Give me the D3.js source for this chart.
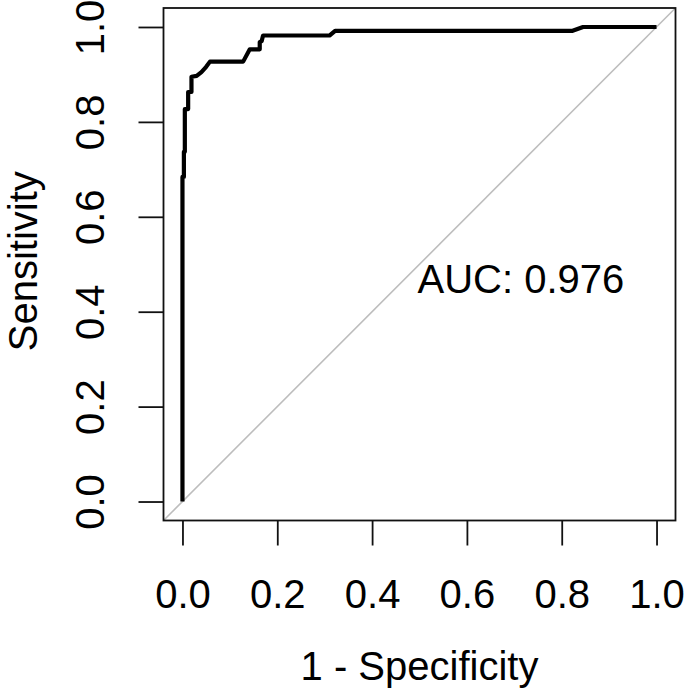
<!DOCTYPE html>
<html>
<head>
<meta charset="utf-8">
<script src="https://cdn.jsdelivr.net/npm/d3@7"></script>
<style>
  html, body { margin: 0; padding: 0; background: #fff; }
  svg { display: block; }
  text { font-family: "Liberation Sans", Arial, Helvetica, sans-serif; fill: #000; }
</style>
</head>
<body>
<svg id="chart" width="685" height="692"></svg>
<script>
// ROC curve points (1 - specificity, sensitivity)
const fpr = [0, 0, 0.003, 0.003, 0.005, 0.005, 0.012, 0.012, 0.019, 0.019, 0.030, 0.040, 0.050, 0.058, 0.128, 0.142, 0.163, 0.163, 0.167, 0.170, 0.310, 0.322, 0.823, 0.845, 1.0];
const tpr = [0, 0.684, 0.684, 0.737, 0.737, 0.827, 0.827, 0.863, 0.863, 0.895, 0.897, 0.905, 0.916, 0.927, 0.927, 0.953, 0.953, 0.968, 0.970, 0.982, 0.982, 0.992, 0.992, 1.0, 1.0];
const xTicks = [0, 0.2, 0.4, 0.6, 0.8, 1.0];
const yTicks = [0, 0.2, 0.4, 0.6, 0.8, 1.0];
const xTitle = "1 - Specificity";
const yTitle = "Sensitivity";
const aucLabel = "AUC: 0.976";
const aucPos = [0.5, 0.44];

const svg = d3.select("#chart");
const x = d3.scaleLinear().domain([-0.04, 1.04]).range([163.5, 675.5]);
const y = d3.scaleLinear().domain([-0.04, 1.04]).range([520.5, 8]);
const fs = 40;

// diagonal reference line
svg.append("line")
  .attr("x1", x(-0.04)).attr("y1", y(-0.04))
  .attr("x2", x(1.04)).attr("y2", y(1.04))
  .attr("stroke", "#bdbdbd").attr("stroke-width", 1.6);

// ROC curve
const pts = fpr.map((d, i) => [d, tpr[i]]);
svg.append("path")
  .datum(pts)
  .attr("d", d3.line().x(d => x(d[0])).y(d => y(d[1])))
  .attr("fill", "none")
  .attr("stroke", "#000")
  .attr("stroke-width", 4.2)
  .attr("stroke-linejoin", "round");

// box
svg.append("rect")
  .attr("x", x(-0.04)).attr("y", y(1.04))
  .attr("width", x(1.04) - x(-0.04)).attr("height", y(-0.04) - y(1.04))
  .attr("fill", "none").attr("stroke", "#111").attr("stroke-width", 1.8);

// x axis
const gx = svg.append("g")
  .attr("transform", `translate(0,${y(-0.04)})`)
  .call(d3.axisBottom(x).tickValues(xTicks).tickSize(25).tickFormat(d3.format(".1f")));
gx.select(".domain").remove();
gx.selectAll(".tick line").attr("stroke", "#111").attr("stroke-width", 1.8);
gx.selectAll(".tick text")
  .attr("y", 608 - y(-0.04)).attr("dy", 0)
  .attr("font-size", fs).attr("font-family", null).attr("fill", "#000");

// y axis
const gy = svg.append("g")
  .attr("transform", `translate(${x(-0.04)},0)`)
  .call(d3.axisLeft(y).tickValues(yTicks).tickSize(25).tickFormat(d3.format(".1f")));
gy.select(".domain").remove();
gy.selectAll(".tick line").attr("stroke", "#111").attr("stroke-width", 1.8);
gy.selectAll(".tick text")
  .attr("x", 0).attr("y", 0).attr("dy", 0)
  .attr("text-anchor", "middle")
  .attr("transform", `translate(${104 - x(-0.04)},0) rotate(-90)`)
  .attr("font-size", fs).attr("font-family", null).attr("fill", "#000");

// axis titles
svg.append("text")
  .attr("x", (x(-0.04) + x(1.04)) / 2).attr("y", 680)
  .attr("text-anchor", "middle").attr("font-size", fs)
  .text(xTitle);
svg.append("text")
  .attr("transform", `translate(36.5,${(y(-0.04) + y(1.04)) / 2 - 3}) rotate(-90)`)
  .attr("text-anchor", "middle").attr("font-size", fs)
  .text(yTitle);

// AUC label
svg.append("text")
  .attr("x", x(aucPos[0]) - 2).attr("y", y(aucPos[1]))
  .attr("font-size", fs)
  .text(aucLabel);
</script>
</body>
</html>
